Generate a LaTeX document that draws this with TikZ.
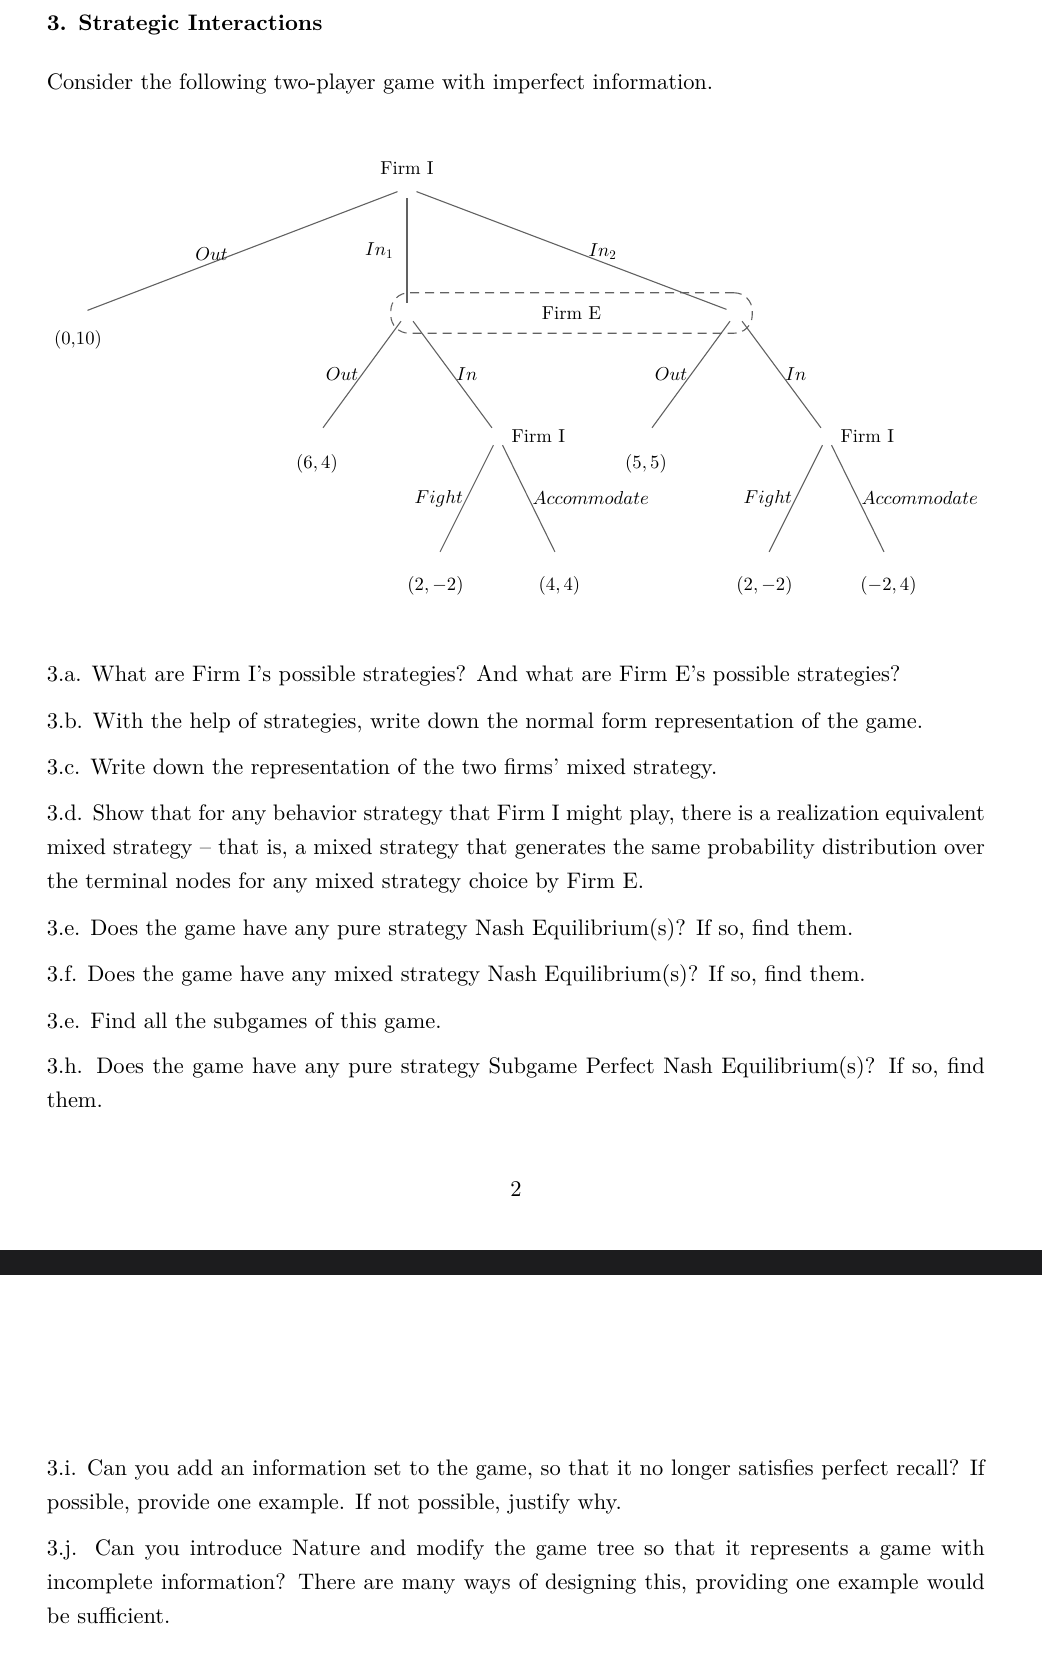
\documentclass[tikz,border=0pt]{standalone}
\usepackage{fix-cm}
\usepackage{fontspec}
\setmainfont{lmroman10-regular.otf}[BoldFont=lmroman10-bold.otf,ItalicFont=lmroman10-italic.otf]
\DeclareFontShape{OML}{cmm}{m}{it}{<->cmmi10}{}
\DeclareFontShape{OMS}{cmsy}{m}{n}{<->cmsy10}{}
\DeclareFontShape{OT1}{cmr}{m}{n}{<->cmr10}{}
\usetikzlibrary{fit}
\definecolor{barcol}{HTML}{1C1C1E}
\newcommand{\bodysize}{\fontsize{22.45}{34.3}\selectfont}
\newcommand{\treesize}{\fontsize{18.7}{22}\selectfont}
\tikzset{
  move/.style={circle,minimum size=20pt,inner sep=0pt},
  payoff/.style={circle,minimum size=20pt,inner sep=0pt},
  edge/.style={draw=black!62,line width=1.1pt},
  para/.style={anchor=base west,inner sep=0pt,text width=938pt,align=justify,font=\bodysize},
}
\begin{document}
\begin{tikzpicture}[x=1pt,y=-1pt]
  \useasboundingbox (0,0) rectangle (1042,1661);
  \node[anchor=base west,inner sep=0pt,font=\bodysize\bfseries] (title) at (46.6,31) {3. Strategic Interactions};
  \node[anchor=base west,inner sep=0pt,font=\bodysize] (intro) at (46.6,90) {Consider the following two-player game with imperfect information.};
  \begin{scope}[font=\treesize]
    \node[move,label={[label distance=0pt]above:Firm I}] (root) at (407,188) {};
    \node[payoff,label={[label distance=3pt]below:(0,10)}] (t1) at (78,314) {};
    \node[move] (e1) at (407,313) {};
    \node[move] (e2) at (736,313) {};
    \node[payoff,label={[label distance=5pt]below:$(6,4)$}] (t2) at (317,436) {};
    \node[move,label=right:Firm I] (i1) at (498,436) {};
    \node[payoff,label={[label distance=5pt]below:$(5,5)$}] (t3) at (646,436) {};
    \node[move,label=right:Firm I] (i2) at (827,436) {};
    \node[payoff,label={[label distance=2pt]below:$(2,-2)$}] (t4) at (435.5,561) {};
    \node[payoff,label={[label distance=2pt]below:$(4,4)$}] (t5) at (559.4,561) {};
    \node[payoff,label={[label distance=2pt]below:$(2,-2)$}] (t6) at (764.5,561) {};
    \node[payoff,label={[label distance=2pt]below:$(-2,4)$}] (t7) at (888.5,561) {};
    \node[fit=(e1)(e2),inner xsep=6pt,inner ysep=10pt,draw=black!62,line width=1.1pt,
      dash pattern=on 9pt off 6pt,rounded corners=18pt,label=center:Firm E] (info) {};
    \draw[edge] (root) -- node[pos=0.6,above,inner sep=2pt] {$Out$} (t1);
    \draw[edge] (root) -- node[left=10pt] {$In_1$} (e1);
    \draw[edge] (root) -- node[pos=0.6,above,inner sep=2pt] {$In_2$} (e2);
    \draw[edge] (e1) -- node[left] {$Out$} (t2);
    \draw[edge] (e1) -- node[right] {$In$} (i1);
    \draw[edge] (e2) -- node[left] {$Out$} (t3);
    \draw[edge] (e2) -- node[right] {$In$} (i2);
    \draw[edge] (i1) -- node[left] {$Fight$} (t4);
    \draw[edge] (i1) -- node[right] {$Accommodate$} (t5);
    \draw[edge] (i2) -- node[left] {$Fight$} (t6);
    \draw[edge] (i2) -- node[right] {$Accommodate$} (t7);
  \end{scope}
  \node[para] (qa) at (46.6,681) {3.a. What are Firm I's possible strategies? And what are Firm E's possible strategies?};
  \node[para] (qb) at (46.6,728) {3.b. With the help of strategies, write down the normal form representation of the game.};
  \node[para] (qc) at (46.6,774) {3.c. Write down the representation of the two firms' mixed strategy.};
  \node[para] (qd) at (46.6,820) {3.d. Show that for any behavior strategy that Firm I might play, there is a realization equivalent\linebreak mixed strategy -- that is, a mixed strategy that generates the same probability distribution over\linebreak the terminal nodes for any mixed strategy choice by Firm E.};
  \node[para] (qe) at (46.6,935) {3.e. Does the game have any pure strategy Nash Equilibrium(s)? If so, find them.};
  \node[para] (qf) at (46.6,981) {3.f. Does the game have any mixed strategy Nash Equilibrium(s)? If so, find them.};
  \node[para] (qg) at (46.6,1028) {3.e. Find all the subgames of this game.};
  \node[para] (qh) at (46.6,1073) {3.h. Does the game have any pure strategy Subgame Perfect Nash Equilibrium(s)? If so, find\linebreak them.};
  \node[anchor=base,inner sep=0pt,font=\bodysize] (page) at (516,1196) {2};
  \fill[barcol] (0,1250) rectangle (1042,1275);
  \node[para] (qi) at (46.6,1475) {3.i. Can you add an information set to the game, so that it no longer satisfies perfect recall? If\linebreak possible, provide one example. If not possible, justify why.};
  \node[para] (qj) at (46.6,1555) {3.j. Can you introduce Nature and modify the game tree so that it represents a game with\linebreak incomplete information? There are many ways of designing this, providing one example would\linebreak be sufficient.};
\end{tikzpicture}
\end{document}
